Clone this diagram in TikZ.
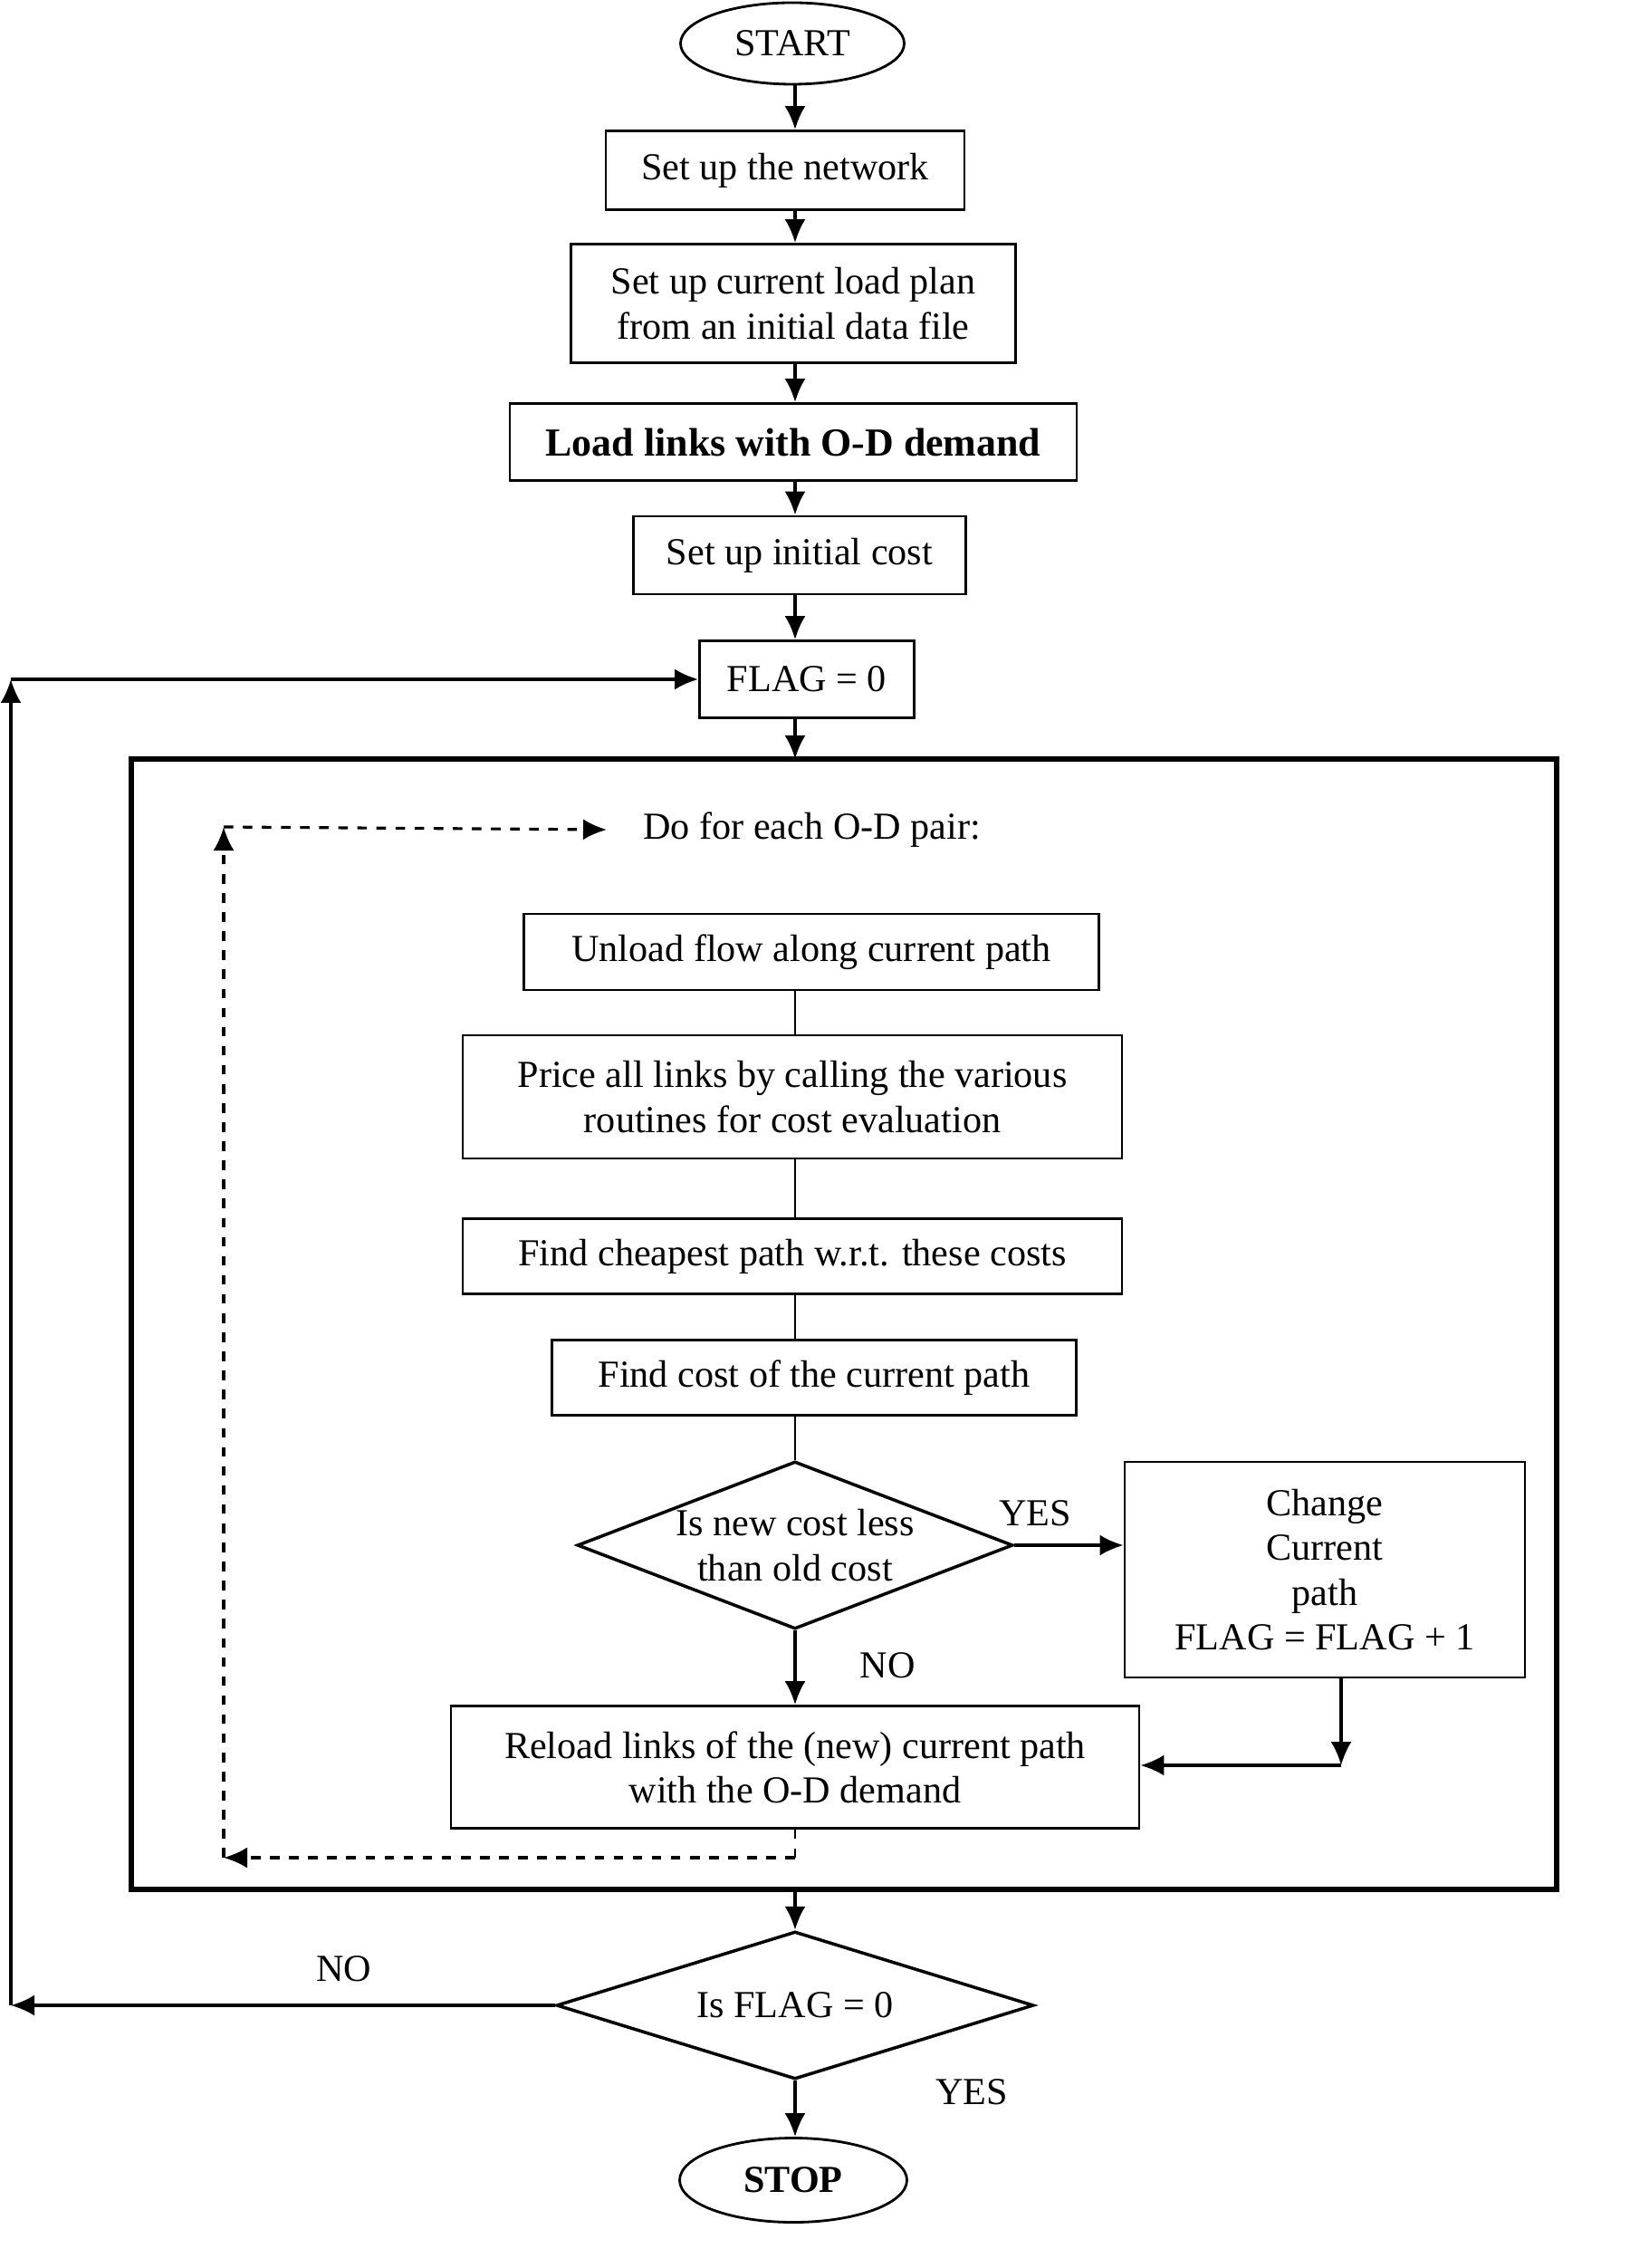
\documentclass[tikz,border=0pt]{standalone}
\usepackage{fontspec}
\setmainfont{Liberation Serif}
\usetikzlibrary{shapes,arrows.meta,positioning,calc}

\begin{document}
\begin{tikzpicture}[
  box/.style={rectangle, draw, line width=0.8pt, align=center, inner sep=2pt, font=\fontsize{12}{14}\selectfont},
  term/.style={ellipse, draw, line width=0.8pt, inner sep=0pt, font=\fontsize{12}{14}\selectfont},
  decide/.style={diamond, draw, line width=1pt, inner sep=0pt},
  arrow/.style={-{Latex[length=2.6mm,width=2.3mm]}, line width=0.9pt},
  link/.style={line width=0.8pt},
  loopline/.style={dashed, line width=0.8pt},
  answer/.style={font=\fontsize{12}{14}\selectfont}
]
  \useasboundingbox (0,0) rectangle (17.99,-25.04);
  \coordinate (spine) at (8.78,0);

  % main column
  \node[term, minimum width=2.47cm, minimum height=0.90cm] (start) at (8.75,-0.48) {START};
  \node[box, minimum width=3.96cm, minimum height=0.87cm] (net) at (8.67,-1.88) {Set up the network};
  \node[box, minimum width=4.91cm, minimum height=1.31cm] (plan) at (8.76,-3.35) {Set up current load plan\\from an initial data file};
  \node[box, minimum width=6.26cm, minimum height=0.85cm, font=\fontsize{12.5}{14}\selectfont\bfseries] (load) at (8.76,-4.88) {Load links with O-D demand};
  \node[box, minimum width=3.67cm, minimum height=0.86cm] (initcost) at (8.83,-6.13) {Set up initial cost};
  \node[box, minimum width=2.37cm, minimum height=0.85cm] (flag) at (8.91,-7.50) {FLAG = 0};

  % loop over O-D pairs
  \coordinate (frameNW) at (1.45,-8.38);
  \coordinate (frameSE) at (17.19,-20.86);
  \draw[line width=1.8pt] (frameNW) rectangle (frameSE);
  \node[answer, anchor=west] (eachpair) at (6.98,-9.16) {Do for each O-D pair:};
  \node[box, minimum width=6.35cm, minimum height=0.84cm] (unload) at (8.96,-10.51) {Unload flow along current path};
  \node[box, minimum width=7.28cm, minimum height=1.36cm] (price) at (8.75,-12.11) {Price all links by calling the various\\routines for cost evaluation};
  \node[box, minimum width=7.28cm, minimum height=0.83cm] (cheap) at (8.75,-13.87) {Find cheapest path w.r.t. these costs};
  \node[box, minimum width=5.79cm, minimum height=0.83cm] (curcost) at (8.99,-15.21) {Find cost of the current path};
  \node[decide, minimum width=4.81cm, minimum height=1.85cm,
    label={[align=center, answer]center:Is new cost less\\than old cost}] (newless) at (8.78,-17.06) {};
  \node[box, minimum width=4.42cm, minimum height=2.38cm] (change) at (14.63,-17.33) {Change\\Current\\path\\FLAG = FLAG + 1};
  \node[box, minimum width=7.60cm, minimum height=1.35cm] (reload) at (8.78,-19.51) {Reload links of the (new) current path\\with the O-D demand};
  \node[answer] (yesin) at (11.43,-16.71) {YES};
  \node[answer] (noin) at (9.80,-18.39) {NO};

  % end test
  \node[decide, minimum width=5.27cm, minimum height=1.63cm,
    label={[answer]center:Is FLAG = 0}] (flagzero) at (8.78,-22.14) {};
  \node[term, minimum width=2.51cm, minimum height=0.93cm, font=\fontsize{12}{14}\selectfont\bfseries] (stop) at (8.76,-24.07) {STOP};
  \node[answer] (noout) at (3.80,-21.74) {NO};
  \node[answer] (yesout) at (10.73,-23.10) {YES};

  \coordinate (chgturn) at (14.81,-19.49);
  \coordinate (loopdown) at (8.78,-20.51);
  \coordinate (loopleft) at (2.47,-20.51);
  \coordinate (looptop) at (2.47,-9.13);
  \coordinate (noleft) at (0.12,-22.14);
  \coordinate (noup) at (0.12,-7.50);

  \draw[arrow] (start.south -| spine) -- (net.north -| spine);
  \draw[arrow] (net.south -| spine) -- (plan.north -| spine);
  \draw[arrow] (plan.south -| spine) -- (load.north -| spine);
  \draw[arrow] (load.south -| spine) -- (initcost.north -| spine);
  \draw[arrow] (initcost.south -| spine) -- (flag.north -| spine);
  \draw[arrow] (flag.south -| spine) -- (frameNW -| spine);

  \draw[link] (unload.south -| spine) -- (price.north -| spine);
  \draw[link] (price.south -| spine) -- (cheap.north -| spine);
  \draw[link] (cheap.south -| spine) -- (curcost.north -| spine);
  \draw[link] (curcost.south -| spine) -- (newless.north);
  \draw[arrow] (newless.south) -- (reload.north -| spine);
  \draw[arrow] (newless.east) -- (newless.east -| change.west);
  \draw[arrow] (change.south -| chgturn) -- (chgturn);
  \draw[arrow] (chgturn) -- (chgturn -| reload.east);

  \draw[loopline] (reload.south) -- (loopdown);
  \draw[loopline, arrow] (loopdown) -- (loopleft);
  \draw[loopline, arrow] (loopleft) -- (looptop);
  \draw[loopline, arrow] (looptop) -- ([xshift=-0.28cm]eachpair.west);

  \draw[arrow] (frameSE -| spine) -- (flagzero.north);
  \draw[arrow] (flagzero.south) -- (stop.north -| spine);
  \draw[arrow] (flagzero.west) -- (noleft);
  \draw[arrow] (noleft) -- (noup);
  \draw[arrow] (noup) -- (flag.west);
\end{tikzpicture}
\end{document}
